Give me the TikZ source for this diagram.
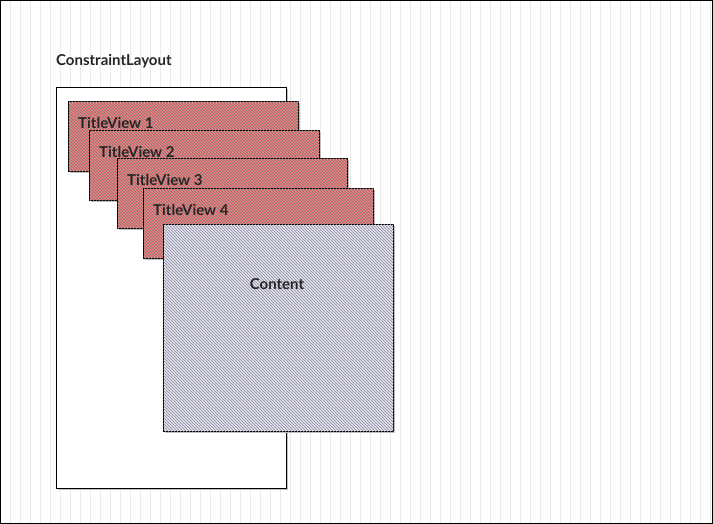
\documentclass[tikz,border=0pt]{standalone}
\usepackage{fontspec}
\setmainfont{Lato}
\usetikzlibrary{patterns}
\begin{document}
\begin{tikzpicture}[x=1pt,y=-1pt,
  frame/.style={draw=black,line width=1pt},
  tv/.style={frame,fill={rgb,255:red,244;green,128;blue,128},postaction={pattern=north west lines,pattern color=black!55}},
  ct/.style={frame,fill={rgb,255:red,226;green,226;blue,246},postaction={pattern=north west lines,pattern color=black!45}},
  lbl/.style={font=\bfseries\fontsize{15}{18}\selectfont,text=black!85,anchor=west,inner sep=0pt},
  shadowbox/.style={fill=black!25}]
\useasboundingbox (0,0) rectangle (713,524);
\fill[white] (0,0) rectangle (713,524);
\draw[black!8,line width=0.6pt] (0,0) grid[step=10] (713,524);
\draw[black,line width=1pt] (0.5,0.5) rectangle (712.5,523.5);
\node[lbl] (title) at (56,61) {ConstraintLayout};
\fill[shadowbox] (58,89) rectangle (288,490);
\node[frame,fill=white,minimum width=230pt,minimum height=401pt,inner sep=0pt,anchor=north west] (cl) at (56,87) {};
\foreach \n/\x/\y in {1/68/101,2/89/130,3/117/158,4/143/188}{
  \fill[shadowbox] (\x+2,\y+2) rectangle (\x+232,\y+72);
  \node[tv,minimum width=230pt,minimum height=70pt,inner sep=0pt,anchor=north west] (tv\n) at (\x,\y) {};
  \node[lbl] (tl\n) at (\x+10,\y+22) {TitleView \n};
}
\fill[shadowbox] (165,226) rectangle (395,433);
\node[ct,minimum width=230pt,minimum height=207pt,inner sep=0pt,anchor=north west] (content) at (163,224) {};
\node[lbl,anchor=center] (cl2) at (277,284) {Content};
\end{tikzpicture}
\end{document}
